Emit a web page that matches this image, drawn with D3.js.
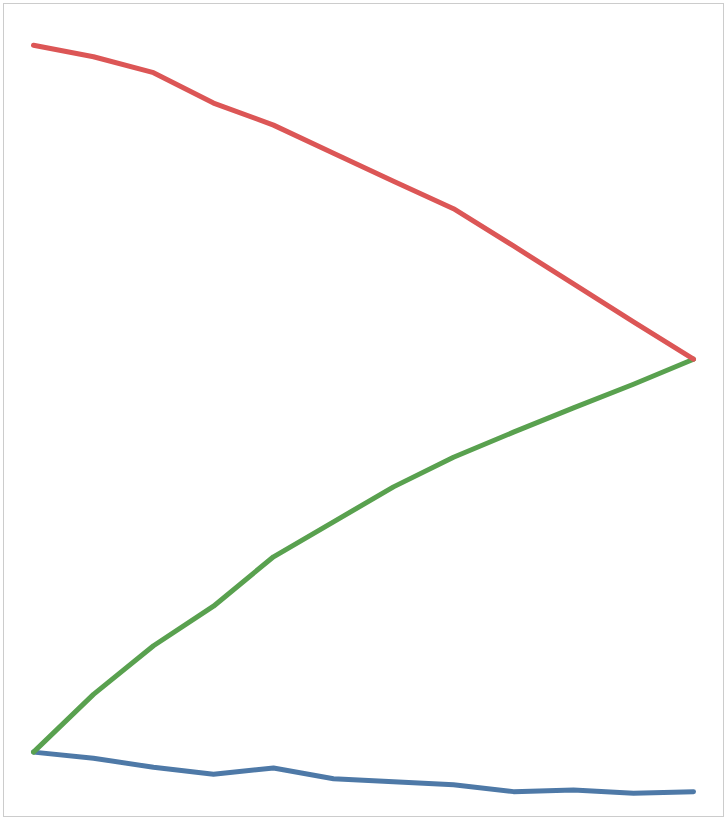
<!DOCTYPE html>
<html>
<head>
<meta charset="utf-8">
<script src="https://cdn.jsdelivr.net/npm/d3@7"></script>
<style>
  body { margin: 0; background: #fff; }
</style>
</head>
<body>
<script>
	// data (0-100 scale)
	var steps = [0, 1, 2, 3, 4, 5, 6, 7, 8, 9, 10, 11];
	var redValues = [99.3, 97.8, 95.7, 91.7, 88.8, 85.1, 81.4, 77.8, 72.9, 67.9, 62.9, 58.0];
	var greenValues = [6.3, 13.9, 20.3, 25.5, 32.0, 36.6, 41.2, 45.1, 48.4, 51.6, 54.7, 58.0];
	var blueValues = [6.3, 5.5, 4.3, 3.4, 4.2, 2.8, 2.4, 2.0, 1.1, 1.3, 0.9, 1.1];

	var width = 727, height = 819;

	var svg = d3.select("body").append("svg")
		.attr("width", width)
		.attr("height", height);

	// frame
	svg.append("rect")
		.attr("x", 3.5)
		.attr("y", 3.5)
		.attr("width", 720)
		.attr("height", 813)
		.attr("fill", "#fff")
		.attr("stroke", "#cccccc")
		.attr("stroke-width", 1);

	// define x scale
	var x = d3.scalePoint()
		.domain(steps)
		.range([33.5, 693.5]);

	// define y scale
	var y = d3.scaleLinear()
		.domain([0, 100])
		.range([800, 40]);

	var line = d3.line()
		.x(function(d, i) { return x(steps[i]); })
		.y(function(d) { return y(d); });

	var series = [
		{ values: blueValues, color: "#4e79a7" },
		{ values: greenValues, color: "#59a14f" },
		{ values: redValues, color: "#dc5656" }
	];

	svg.selectAll(".line")
		.data(series)
		.enter()
		.append("path")
		.attr("class", "line")
		.attr("d", function(d) { return line(d.values); })
		.attr("fill", "none")
		.attr("stroke", function(d) { return d.color; })
		.attr("stroke-width", 5)
		.attr("stroke-linecap", "round")
		.attr("stroke-linejoin", "round");
</script>
</body>
</html>
